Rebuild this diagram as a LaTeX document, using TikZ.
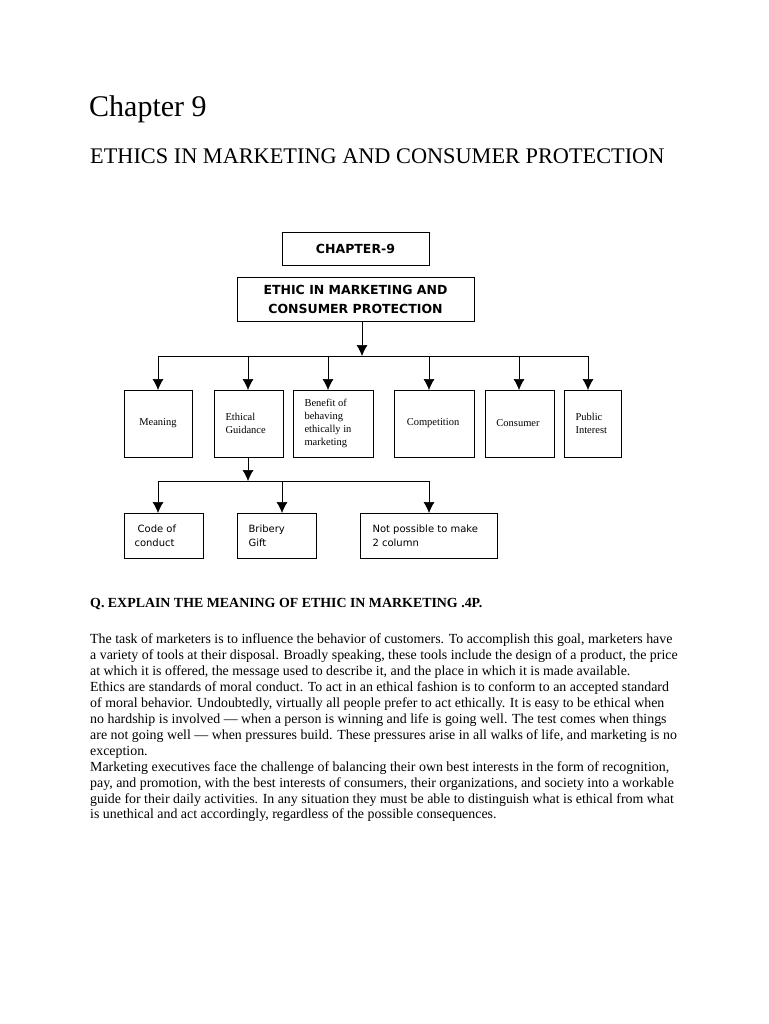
\documentclass[tikz,border=0pt]{standalone}
\usepackage{fontspec}
\usetikzlibrary{arrows.meta}
\setmainfont{Liberation Serif}
\newfontfamily\boxfont{DejaVu Sans}
\begin{document}
\begin{tikzpicture}[x=1pt,y=-1pt,
  bx/.style={draw,line width=0.8pt,inner sep=0pt},
  ar/.style={-{Latex[length=11pt,width=11pt]},line width=0.6pt},
  ln/.style={line width=0.6pt},
  para/.style={anchor=west,inner sep=0pt,font=\fontsize{13.9}{15}\selectfont},
  mtxt/.style={font=\fontsize{10.5}{13}\selectfont,align=left},
  btxt/.style={font=\boxfont\fontsize{10}{14.5}\selectfont,align=left}]
\useasboundingbox (0,0) rectangle (768,1024);
\node[anchor=west,inner sep=0pt,font=\fontsize{30}{33}\selectfont] (t1) at (89,109) {Chapter 9};
\node[anchor=west,inner sep=0pt,font=\fontsize{22.3}{25}\selectfont] (t2) at (90,156) {ETHICS IN MARKETING AND CONSUMER PROTECTION};
% top boxes
\draw[bx] (282,232) rectangle (429,265);
\node[font=\boxfont\bfseries\fontsize{12.5}{14}\selectfont] (ch) at (355.5,248.5) {CHAPTER-9};
\draw[bx] (237,277) rectangle (474,321);
\node[font=\boxfont\bfseries\fontsize{12.5}{19}\selectfont,align=center] (eth) at (355.5,299) {ETHIC IN MARKETING AND\\CONSUMER PROTECTION};
\coordinate (e1) at (362,321);
\coordinate (j1) at (362,356);
\draw[ar] (e1) -- (j1);
\coordinate (l1) at (158,356);
\coordinate (r1) at (588,356);
\draw[ln] (l1) -- (r1);
% second level
\draw[bx] (124,390) rectangle (192,457);
\node[mtxt] (m) at (158,423) {Meaning};
\draw[bx] (214,390) rectangle (283,457);
\node[mtxt,anchor=west] (eg) at (222,423) {Ethical\\Guidance};
\draw[bx] (293,390) rectangle (373,457);
\node[mtxt,anchor=west] (bn) at (301,423) {Benefit of\\behaving\\ethically in\\marketing};
\draw[bx] (394,390) rectangle (474,457);
\node[mtxt] (cp) at (433,423) {Competition};
\draw[bx] (485,390) rectangle (554,457);
\node[mtxt] (cs) at (518,423) {Consumer};
\draw[bx] (564,390) rectangle (621,457);
\node[mtxt,anchor=west] (pi) at (572,423) {Public\\Interest};
\foreach \x in {158,248,328,429,519,588}{
  \coordinate (a\x) at (\x,356);
  \coordinate (b\x) at (\x,390);
  \draw[ar] (a\x) -- (b\x);}
% third level
\coordinate (g1) at (248,457);
\coordinate (g2) at (248,481);
\draw[ar] (g1) -- (g2);
\coordinate (l2) at (158,481);
\coordinate (r2) at (429,481);
\draw[ln] (l2) -- (r2);
\foreach \x in {158,282,429}{
  \coordinate (c\x) at (\x,481);
  \coordinate (d\x) at (\x,513);
  \draw[ar] (c\x) -- (d\x);}
\draw[bx] (124,513) rectangle (203,558);
\node[btxt,anchor=west] (cc) at (131,536) {\ Code of\\conduct};
\draw[bx] (237,513) rectangle (316,558);
\node[btxt,anchor=west] (bg) at (245,536) {Bribery\\Gift};
\draw[bx] (360,513) rectangle (497,558);
\node[btxt,anchor=west] (np) at (369,536) {Not possible to make\\2 column};
% text
\node[anchor=west,inner sep=0pt,font=\bfseries\fontsize{13.9}{15}\selectfont] (q) at (90,604) {Q. EXPLAIN THE MEANING OF ETHIC IN MARKETING .4P.};
\node[para] (p1) at (90,640) {The task of marketers is to influence the behavior of customers. To accomplish this goal, marketers have};
\node[para] (p2) at (90,656) {a variety of tools at their disposal. Broadly speaking, these tools include the design of a product, the price};
\node[para] (p3) at (90,672) {at which it is offered, the message used to describe it, and the place in which it is made available.};
\node[para] (p4) at (90,688) {Ethics are standards of moral conduct. To act in an ethical fashion is to conform to an accepted standard};
\node[para] (p5) at (90,704) {of moral behavior. Undoubtedly, virtually all people prefer to act ethically. It is easy to be ethical when};
\node[para] (p6) at (90,720) {no hardship is involved — when a person is winning and life is going well. The test comes when things};
\node[para] (p7) at (90,736) {are not going well — when pressures build. These pressures arise in all walks of life, and marketing is no};
\node[para] (p8) at (90,752) {exception.};
\node[para] (p9) at (90,768) {Marketing executives face the challenge of balancing their own best interests in the form of recognition,};
\node[para] (p10) at (90,784) {pay, and promotion, with the best interests of consumers, their organizations, and society into a workable};
\node[para] (p11) at (90,800) {guide for their daily activities. In any situation they must be able to distinguish what is ethical from what};
\node[para] (p12) at (90,815) {is unethical and act accordingly, regardless of the possible consequences.};
\end{tikzpicture}
\end{document}
